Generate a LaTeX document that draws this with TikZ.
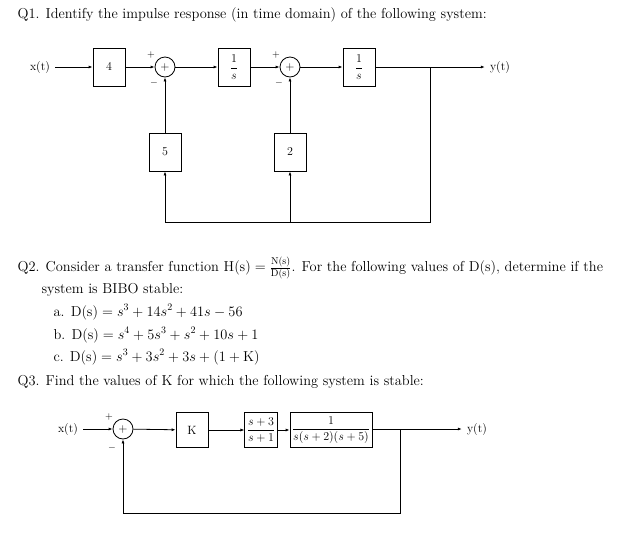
\documentclass[tikz,border=0pt]{standalone}
\usepackage{amsmath,amssymb}
\usepackage{tikz}
\usetikzlibrary{arrows.meta,positioning}
\tikzset{
  blk/.style={draw, thick, minimum width=32pt, minimum height=38pt, inner sep=2pt, font=\large},
  sumc/.style={draw, thick, circle, minimum size=20pt, inner sep=0pt, font=\large},
  sig/.style={thick, -{Latex[length=4pt,width=3pt]}},
  ln/.style={thick},
  lbl/.style={font=\large, inner sep=5pt},
  txt/.style={anchor=west, font=\Large}
}
\begin{document}
\begin{tikzpicture}[x=1pt,y=-1pt]
\useasboundingbox (0,0) rectangle (640,555);

% Q1 text
\node[txt] at (14,15) {Q1. Identify the impulse response (in time domain) of the following system:};

% Q1 diagram
\node[lbl] (xin) at (40,67) {$\mathrm{x(t)}$};
\node[blk] (g4) at (109,67) {$4$};
\node[sumc] (s1) at (165,67) {$+$};
\node[blk] (i1) at (234,67) {$\dfrac{1}{s}$};
\node[sumc] (s2) at (290,67) {$+$};
\node[blk] (i2) at (359,67) {$\dfrac{1}{s}$};
\coordinate (br) at (430,67);
\node[lbl] (yout) at (500,67) {$\mathrm{y(t)}$};
\node[blk] (g5) at (165,152) {$5$};
\node[blk] (g2) at (290,152) {$2$};
\coordinate (b1) at (165,222);
\coordinate (b2) at (290,222);
\coordinate (b3) at (430,222);

\draw[sig] (xin) -- (g4);
\draw[sig] (g4) -- (s1);
\draw[sig] (s1) -- (i1);
\draw[sig] (i1) -- (s2);
\draw[sig] (s2) -- (i2);
\draw[sig] (i2) -- (yout);
\draw[ln] (br) -- (b3) -- (b1);
\draw[sig] (b1) -- (g5);
\draw[sig] (b2) -- (g2);
\draw[sig] (g5) -- (s1);
\draw[sig] (g2) -- (s2);
\node at (151,55) {$+$};
\node at (154,83) {$-$};
\node at (276,55) {$+$};
\node at (279,83) {$-$};

% Q2 text
\node[txt] at (14,268) {Q2. Consider a transfer function $\mathrm{H(s)}=\frac{\mathrm{N(s)}}{\mathrm{D(s)}}$. For the following values of $\mathrm{D(s)}$, determine if the};
\node[txt] at (38,290) {system is BIBO stable:};
\node[txt] at (50,312) {a. $\mathrm{D(s)}=s^3+14s^2+41s-56$};
\node[txt] at (50,335) {b. $\mathrm{D(s)}=s^4+5s^3+s^2+10s+1$};
\node[txt] at (50,357) {c. $\mathrm{D(s)}=s^3+3s^2+3s+(1+\mathrm{K})$};
\node[txt] at (14,382) {Q3. Find the values of $\mathrm{K}$ for which the following system is stable:};

% Q3 diagram
\node[lbl] (xin3) at (68,429) {$\mathrm{x(t)}$};
\node[sumc] (s3) at (123,429) {$+$};
\node[blk, minimum height=35pt] (gk) at (192,430) {$\mathrm{K}$};
\node[blk, minimum height=35pt] (gl) at (261,430) {$\dfrac{s+3}{s+1}$};
\node[blk, minimum height=35pt, minimum width=78pt] (gp) at (331,430) {$\dfrac{1}{s(s+2)(s+5)}$};
\coordinate (br3) at (400,429);
\node[lbl] (yout3) at (477,429) {$\mathrm{y(t)}$};
\coordinate (c1) at (400,513);
\coordinate (c2) at (123,513);

\draw[sig] (xin3) -- (s3);
\draw[sig] (s3) -- (gk);
\draw[sig] (gk) -- (gl);
\draw[sig] (gl) -- (gp);
\draw[sig] (gp.east |- br3) -- (yout3);
\draw[ln] (br3) -- (c1) -- (c2);
\draw[sig] (c2) -- (s3);
\node at (109,417) {$+$};
\node at (112,448) {$-$};
\end{tikzpicture}
\end{document}
